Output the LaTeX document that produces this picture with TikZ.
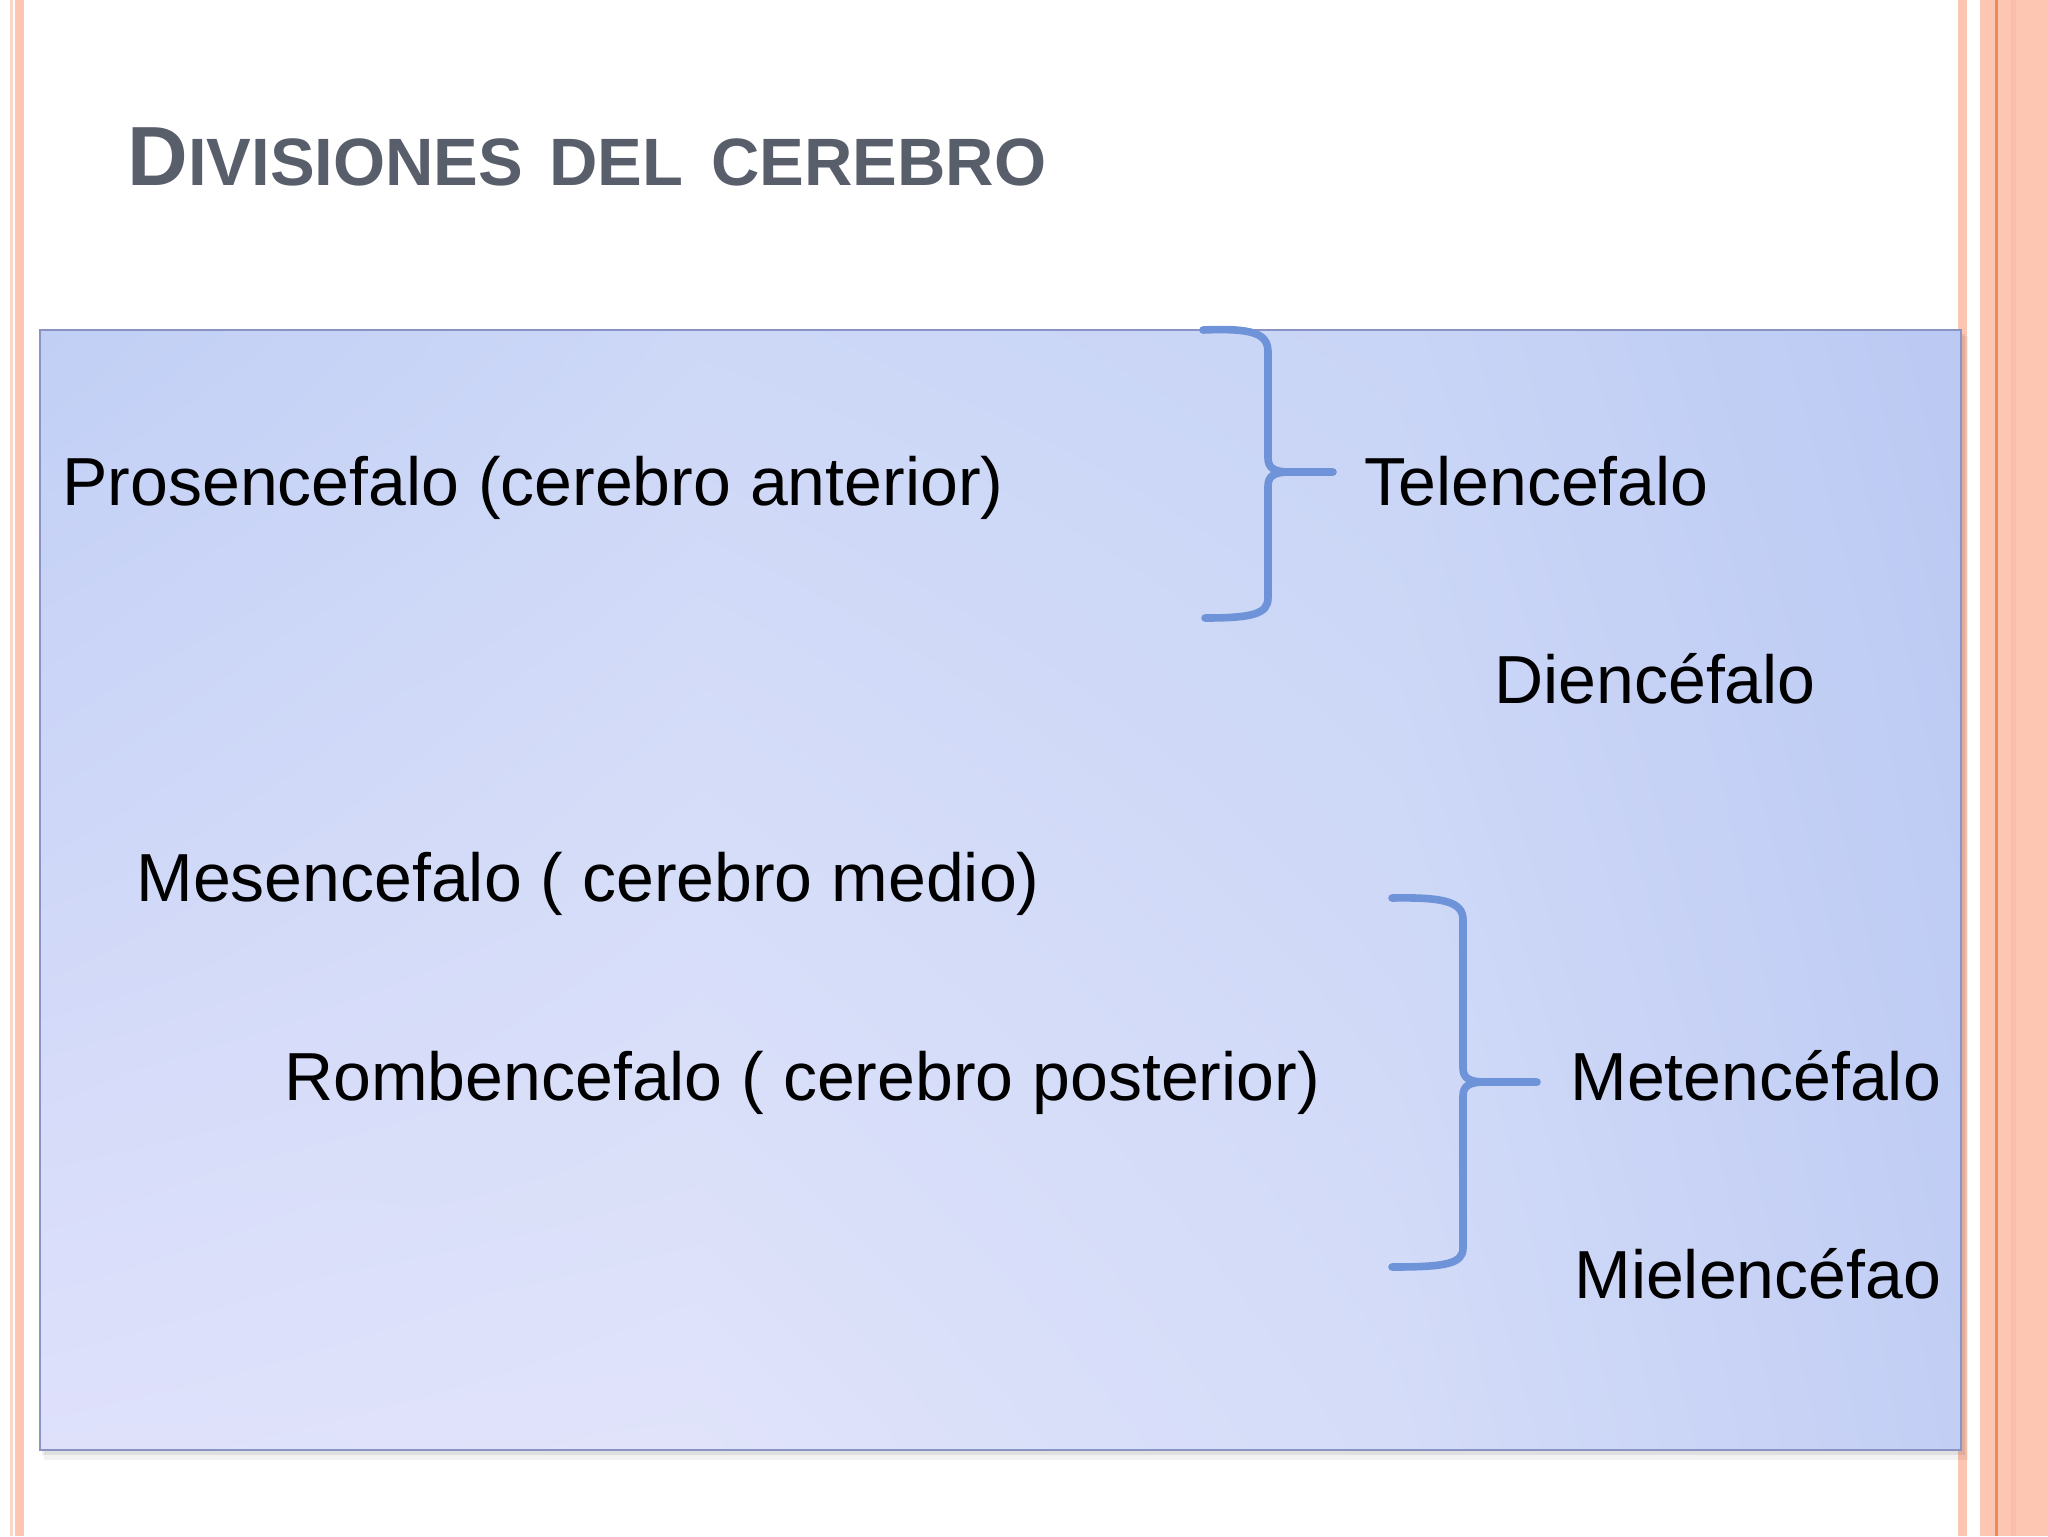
\documentclass[tikz,border=0pt]{standalone}
\usepackage{fontspec}
\setmainfont{Liberation Sans}
\usetikzlibrary{positioning,shadings}
\definecolor{slideInk}{HTML}{595E6B}
\definecolor{braceBlue}{HTML}{6F93D8}
\definecolor{boxLine}{HTML}{8A94C4}
\definecolor{stripePale}{HTML}{FBD5C8}
\definecolor{stripeSalmon}{HTML}{FCC6B2}
\definecolor{stripeDeep}{HTML}{F9BFAA}
\definecolor{stripeOrange}{HTML}{EF8A52}
\definecolor{panelA}{HTML}{C1CFF5}
\definecolor{panelB}{HTML}{CDD8F7}
\definecolor{panelC}{HTML}{C9D5F6}
\definecolor{panelD}{HTML}{BBC9F3}
\definecolor{panelE}{HTML}{DFE1FB}
\definecolor{panelF}{HTML}{E0E3FA}
\definecolor{panelG}{HTML}{D4DCF8}
\definecolor{panelH}{HTML}{C2CEF4}

\begin{document}
\begin{tikzpicture}[x=0.5pt,y=-0.5pt,
  term/.style={anchor=base west,inner sep=0pt,text=black,font=\fontsize{34}{40}\selectfont},
  heading/.style={anchor=base west,inner sep=0pt,text=slideInk,font=\bfseries},
  curly/.style={draw=braceBlue,line width=3.8pt,line cap=round,line join=round}
]
\useasboundingbox (0,0) rectangle (2048,1536);
\fill[white] (0,0) rectangle (2048,1536);
% side stripes
\fill[stripePale] (10,0) rectangle (13,1536);
\fill[stripeSalmon] (15,0) rectangle (24,1536);
\fill[stripeSalmon] (1958,0) rectangle (1967,1536);
\fill[stripeSalmon] (1980,0) rectangle (2048,1536);
\fill[stripeDeep] (2011,0) rectangle (2016,1536);
\fill[stripeOrange] (1995,0) rectangle (1998,1536);
% panel
\fill[black,opacity=0.05] (44,336) rectangle (1968,1460);
\fill[black,opacity=0.07] (42,334) rectangle (1965,1455);
\shade[upper left=panelA,upper right=panelB,lower left=panelE,lower right=panelF] (40,330) rectangle (700,1450);
\shade[upper left=panelB,upper right=panelC,lower left=panelF,lower right=panelG] (700,330) rectangle (1400,1450);
\shade[upper left=panelC,upper right=panelD,lower left=panelG,lower right=panelH] (1400,330) rectangle (1961,1450);
\draw[boxLine,line width=1pt] (40,330) rectangle (1961,1450);

\node[heading] (title) at (127,185) {{\fontsize{42}{50}\selectfont D}{\fontsize{33.5}{40}\selectfont IVISIONES\hspace{13pt}DEL\hspace{14pt}CEREBRO}};

\node[term] (pros) at (62,505) {Prosencefalo (cerebro anterior)};
\node[term] (tel) at (1364,505) {Telencefalo};
\node[term] (dien) at (1494,703) {Diencéfalo};
\node[term] (mes) at (136,901) {Mesencefalo ( cerebro medio)};
\node[term] (romb) at (284,1100) {Rombencefalo ( cerebro posterior)};
\node[term] (met) at (1570,1100) {Metencéfalo};
\node[term] (miel) at (1574,1298) {Mielencéfao};

\coordinate (telTip) at (1333,472);
\coordinate (metTip) at (1537,1082);
\draw[curly] (1203,330) .. controls (1252,328) and (1268,333) .. (1268,352) -- (1268,458)
  .. controls (1268,468) and (1274,472) .. (1290,472) -- (telTip)
  -- (1290,472) .. controls (1274,472) and (1268,476) .. (1268,486) -- (1268,598)
  .. controls (1268,614) and (1252,618) .. (1205,618);
\draw[curly] (1392,898) .. controls (1445,897) and (1463,902) .. (1463,920) -- (1463,1068)
  .. controls (1463,1078) and (1469,1082) .. (1485,1082) -- (metTip)
  -- (1485,1082) .. controls (1469,1082) and (1463,1086) .. (1463,1096) -- (1463,1248)
  .. controls (1463,1264) and (1445,1267) .. (1392,1267);
\end{tikzpicture}
\end{document}
